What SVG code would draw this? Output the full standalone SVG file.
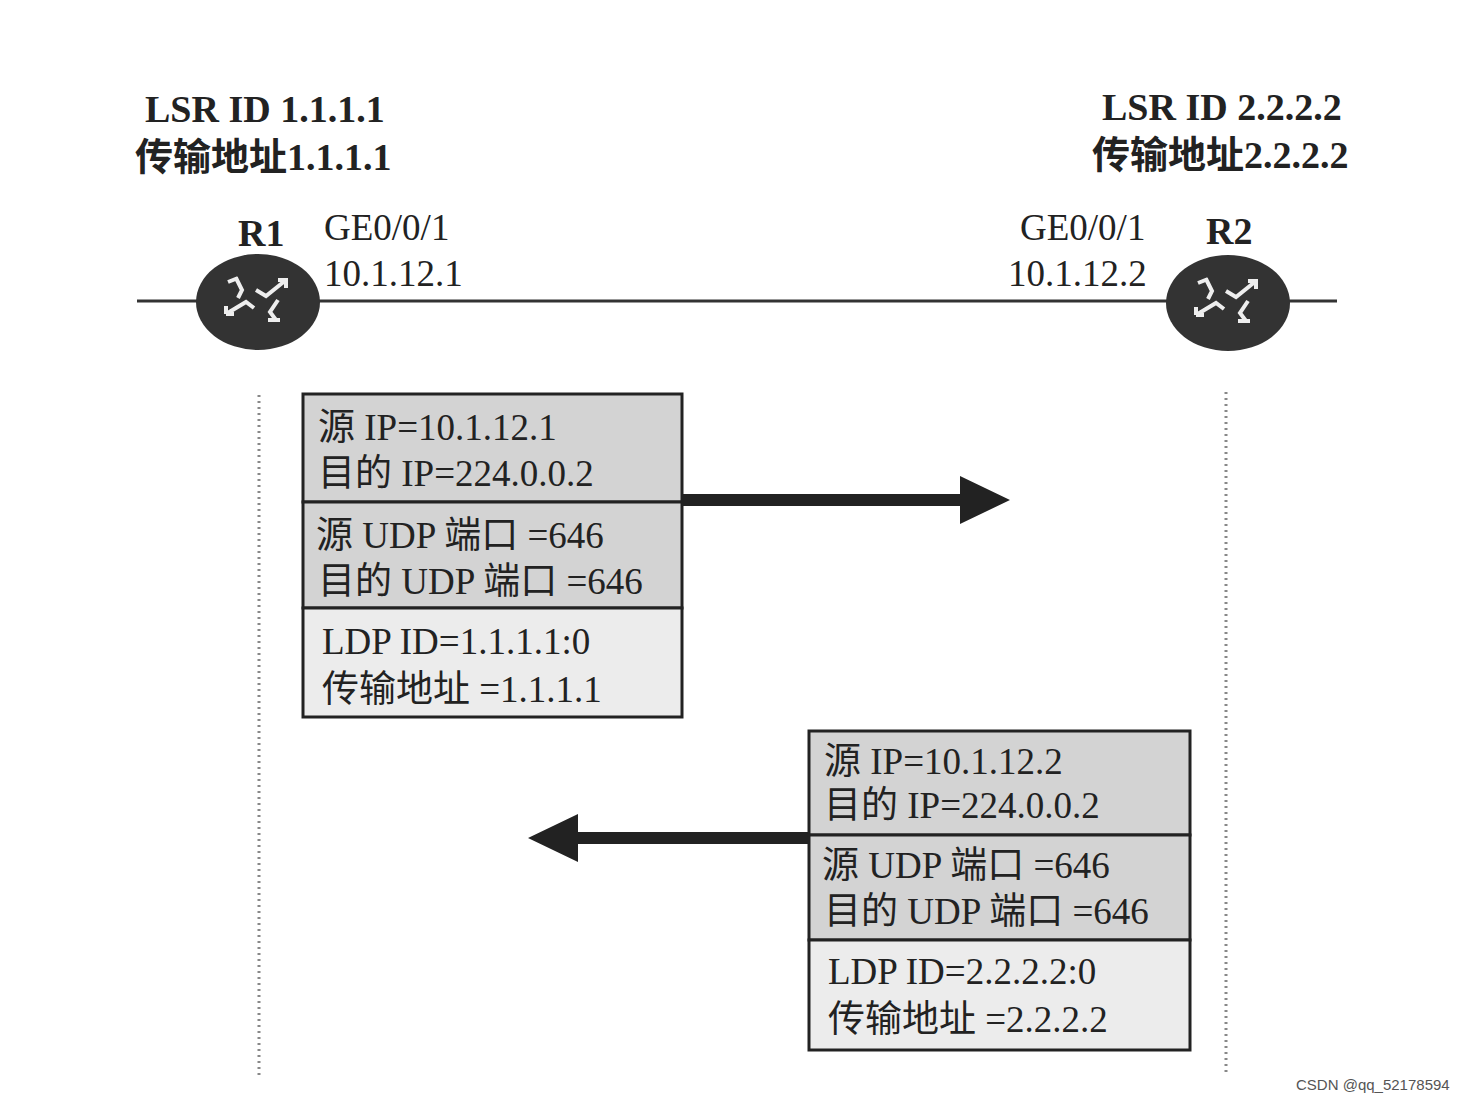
<svg xmlns="http://www.w3.org/2000/svg" width="1481" height="1102" viewBox="0 0 1481 1102">
<style>
text{font-family:"Liberation Serif","Noto Sans CJK SC",serif;fill:#222;font-size:37px}
.b{font-weight:bold;font-size:38px}
.g{fill:#d3d3d3;stroke:#222;stroke-width:3}
.l{fill:#ececec;stroke:#222;stroke-width:3}
.dot{stroke:#888;stroke-width:3;stroke-dasharray:2 4}
.ic{fill:none;stroke:#eee;stroke-width:4}
</style>
<rect width="1481" height="1102" fill="#fff"/>
<g id="labels">
<text class="b" x="145" y="122">LSR ID 1.1.1.1</text>
<text class="b" x="135" y="170">传输地址1.1.1.1</text>
<text class="b" x="1102" y="120">LSR ID 2.2.2.2</text>
<text class="b" x="1092" y="168">传输地址2.2.2.2</text>
<text class="b" x="238" y="246">R1</text>
<text class="b" x="1206" y="244">R2</text>
<text x="324" y="240">GE0/0/1</text>
<text x="324" y="286">10.1.12.1</text>
<text x="1020" y="240">GE0/0/1</text>
<text x="1008" y="286">10.1.12.2</text>
</g>
<g id="link"><line x1="137" y1="301" x2="1337" y2="301" stroke="#333" stroke-width="3"/></g>
<g id="R1">
<ellipse cx="258" cy="302" rx="62" ry="48" fill="#333"/>
<path class="ic" d="M236 278l6 12-4 8M228 282l10-4M256 290l10 6 20-16M278 280h8v8M226 314l20-12 8 6M226 314h8M226 314v-8M278 300l-8 12 6 8M268 320h12"/>
</g>
<g id="R2">
<ellipse cx="1228" cy="303" rx="62" ry="48" fill="#333"/>
<path class="ic" d="M1206 279l6 12-4 8M1198 283l10-4M1226 291l10 6 20-16M1248 281h8v8M1196 315l20-12 8 6M1196 315h8M1196 315v-8M1248 301l-8 12 6 8M1238 321h12"/>
</g>
<g id="lifelines">
<line class="dot" x1="259" y1="395" x2="259" y2="1075"/>
<line class="dot" x1="1226" y1="392" x2="1226" y2="1075"/>
</g>
<g id="connectors">
<path d="M682 494H960V476L1010 500L960 524V506H682Z" fill="#222"/>
<path d="M809 832H578V814L528 838L578 862V844H809Z" fill="#222"/>
</g>
<g id="msg1">
<rect class="g" x="303" y="394" width="379" height="108"/>
<rect class="g" x="303" y="502" width="379" height="106"/>
<rect class="l" x="303" y="608" width="379" height="109"/>
<text x="318" y="440">源 IP=10.1.12.1</text>
<text x="318" y="486">目的 IP=224.0.0.2</text>
<text x="316" y="548">源 UDP 端口 =646</text>
<text x="318" y="594">目的 UDP 端口 =646</text>
<text x="322" y="654">LDP ID=1.1.1.1:0</text>
<text x="322" y="702">传输地址 =1.1.1.1</text>
</g>
<g id="msg2">
<rect class="g" x="809" y="731" width="381" height="104"/>
<rect class="g" x="809" y="835" width="381" height="105"/>
<rect class="l" x="809" y="940" width="381" height="110"/>
<text x="824" y="774">源 IP=10.1.12.2</text>
<text x="824" y="818">目的 IP=224.0.0.2</text>
<text x="822" y="878">源 UDP 端口 =646</text>
<text x="824" y="924">目的 UDP 端口 =646</text>
<text x="828" y="984">LDP ID=2.2.2.2:0</text>
<text x="828" y="1032">传输地址 =2.2.2.2</text>
</g>
<text x="1296" y="1090" style="font-family:'Liberation Sans',sans-serif;font-size:15px;fill:#555">CSDN @qq_52178594</text>
</svg>
